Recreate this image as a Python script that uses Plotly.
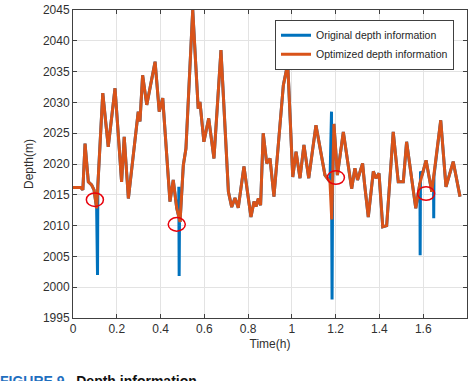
import plotly.graph_objects as go

# Optimized depth information (time in h, depth in m)
opt_t = [0.000, 0.035, 0.045, 0.055, 0.070, 0.085, 0.096, 0.108, 0.136, 0.161,
         0.192, 0.222, 0.234, 0.253, 0.298, 0.306, 0.318, 0.337, 0.375, 0.394,
         0.410, 0.443, 0.458, 0.474, 0.489, 0.504, 0.516, 0.547, 0.572, 0.580,
         0.598, 0.620, 0.644, 0.676, 0.710, 0.725, 0.740, 0.755, 0.781, 0.813,
         0.827, 0.836, 0.847, 0.857, 0.869, 0.885, 0.900, 0.918, 0.961, 0.981,
         1.004, 1.019, 1.037, 1.055, 1.077, 1.110, 1.151, 1.174, 1.182, 1.192,
         1.208, 1.235, 1.273, 1.288, 1.300, 1.323, 1.331, 1.349, 1.372, 1.384,
         1.398, 1.415, 1.433, 1.463, 1.486, 1.509, 1.524, 1.566, 1.585, 1.613,
         1.639, 1.680, 1.704, 1.737, 1.768]
opt_d = [2016.2, 2016.2, 2015.8, 2023.3, 2017.1, 2016.6, 2015.8, 2012.8, 2031.5, 2022.8,
         2032.3, 2017.1, 2024.4, 2014.4, 2028.5, 2026.9, 2034.4, 2029.6, 2036.6, 2028.5,
         2030.7, 2013.9, 2017.4, 2012.8, 2010.6, 2019.8, 2022.5, 2045.0, 2029.0, 2030.1,
         2023.6, 2027.4, 2020.9, 2038.5, 2015.5, 2013.0, 2014.5, 2012.9, 2019.6, 2011.4,
         2013.9, 2013.1, 2014.4, 2013.3, 2025.0, 2020.1, 2020.9, 2014.7, 2032.8, 2036.3,
         2017.9, 2022.0, 2017.7, 2023.1, 2017.7, 2026.3, 2018.2, 2017.1, 2011.0, 2026.5,
         2018.2, 2025.2, 2016.0, 2019.3, 2017.4, 2020.1, 2017.1, 2011.4, 2018.8, 2017.7,
         2018.5, 2009.8, 2010.0, 2025.2, 2017.1, 2017.1, 2023.6, 2012.8, 2016.9, 2020.6,
         2015.5, 2027.1, 2016.3, 2020.4, 2014.7]

# Outlier samples present only in the original depth information
spike_t = [0.112, 0.1135,
           0.483, 0.4835, 0.485, 0.4865,
           1.181, 1.1835, 1.186,
           1.586, 1.5875, 1.595,
           1.647, 1.648, 1.649]
spike_d = [2002.0, 2016.5,
           2011.5, 2016.3, 2001.8, 2011.0,
           2028.5, 1998.0, 2016.0,
           2005.2, 2018.8, 2018.2,
           2017.8, 2011.2, 2018.0]

# Red markers around corrected points (centre time, centre depth)
circle_t = [0.100, 0.474, 1.201, 1.613]
circle_d = [2014.2, 2010.2, 2017.8, 2015.2]
circle_rx = 0.039
circle_ry = 1.1

x_ticks = [0, 0.2, 0.4, 0.6, 0.8, 1.0, 1.2, 1.4, 1.6, 1.8]
x_tick_labels = ["0", "0.2", "0.4", "0.6", "0.8", "1", "1.2", "1.4", "1.6", "1.8"]
y_ticks = [1995, 2000, 2005, 2010, 2015, 2020, 2025, 2030, 2035, 2040, 2045]

orig = sorted(list(zip(opt_t, opt_d)) + list(zip(spike_t, spike_d)))
orig_t = [p[0] for p in orig]
orig_d = [p[1] for p in orig]

fig = go.Figure()
fig.add_trace(go.Scatter(x=orig_t, y=orig_d, mode="lines",
                         name="Original depth information",
                         line=dict(color="#0072BD", width=3)))
fig.add_trace(go.Scatter(x=opt_t, y=opt_d, mode="lines",
                         name="Optimized depth information",
                         line=dict(color="#D95319", width=3)))

for ct, cd in zip(circle_t, circle_d):
    fig.add_shape(type="circle", xref="x", yref="y",
                  x0=ct - circle_rx, x1=ct + circle_rx,
                  y0=cd - circle_ry, y1=cd + circle_ry,
                  line=dict(color="#E8000B", width=1.5))

axis_common = dict(showgrid=True, gridcolor="#e3e3e3", gridwidth=1,
                   showline=True, linecolor="#404040", linewidth=1,
                   mirror="allticks", ticks="inside", ticklen=4,
                   tickcolor="#404040", zeroline=False, automargin=False,
                   tickfont=dict(family="Liberation Sans, Arial", size=12, color="#303030"))

fig.update_xaxes(range=[0, 1.8], tickvals=x_ticks, ticktext=x_tick_labels,
                 title=dict(text="Time(h)", standoff=4,
                            font=dict(family="Liberation Sans, Arial", size=12, color="#303030")),
                 **axis_common)
fig.update_yaxes(range=[1995, 2045], tickvals=y_ticks,
                 title=dict(text="Depth(m)", standoff=6,
                            font=dict(family="Liberation Sans, Arial", size=12, color="#303030")),
                 **axis_common)

fig.update_layout(
    width=474, height=381,
    margin=dict(l=73, r=7, t=10, b=63, autoexpand=False),
    paper_bgcolor="white", plot_bgcolor="white",
    showlegend=True,
    legend=dict(x=0.967, y=0.968, xanchor="right", yanchor="top",
                bgcolor="white", bordercolor="#404040", borderwidth=1,
                font=dict(family="Liberation Sans, Arial", size=10.5, color="#262626"),
                tracegroupgap=0, itemwidth=30),
    annotations=[dict(
        text="<b><span style='color:#1f6fbf'>FIGURE 9.</span>  Depth information</b>",
        xref="paper", yref="paper", x=-0.19, y=-0.172,
        xanchor="left", yanchor="top", showarrow=False,
        font=dict(family="Liberation Sans, Arial", size=14, color="#111111"))],
)

fig.write_html("out.html", config={"displayModeBar": False},
               post_script="document.body.style.margin='0';document.body.style.overflow='hidden';")
